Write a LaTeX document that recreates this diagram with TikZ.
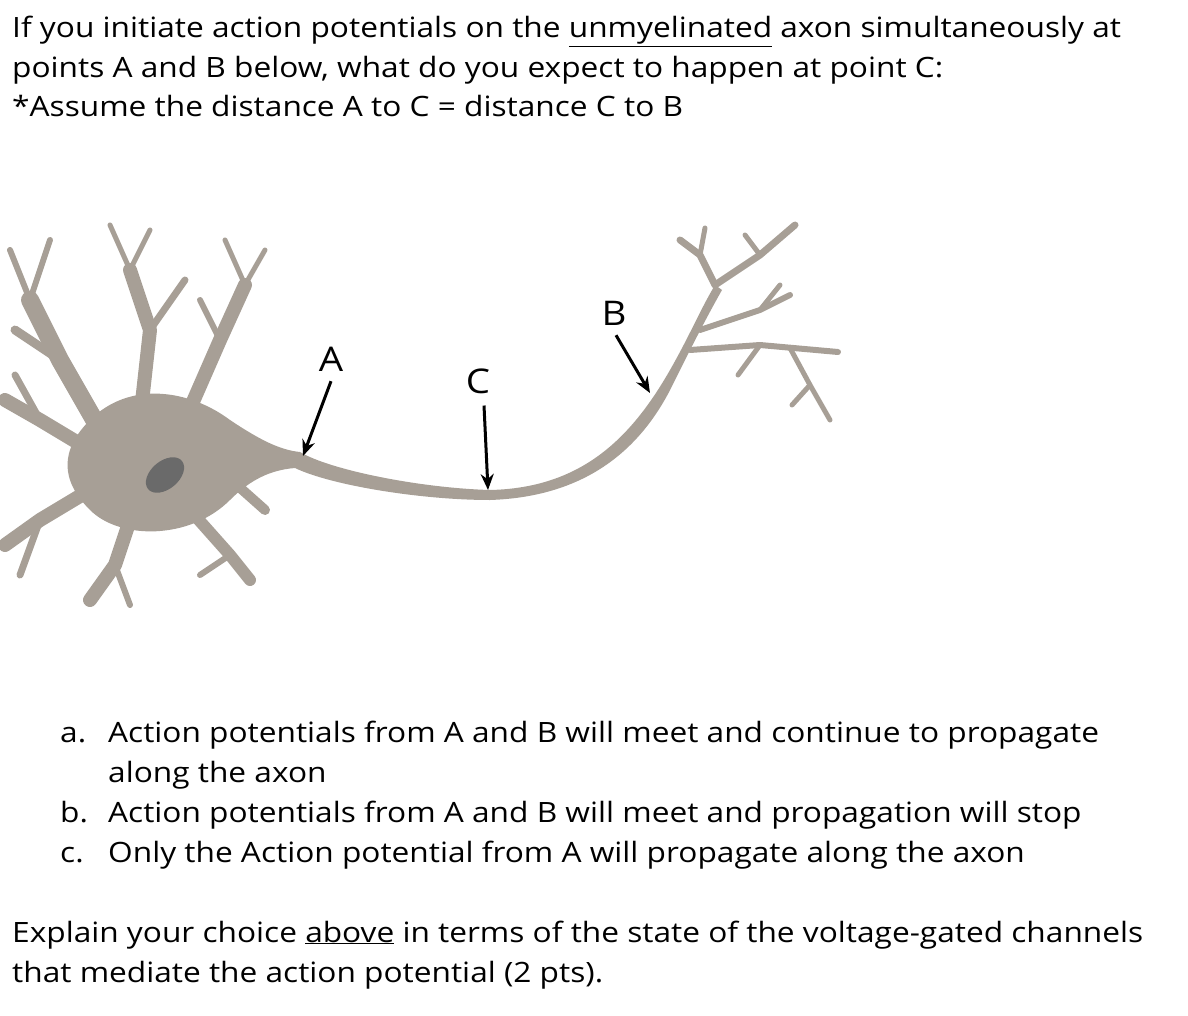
\documentclass[tikz,border=0pt]{standalone}
\usepackage{fontspec}
\setmainfont{Open Sans}[FakeStretch=1.13]
\usetikzlibrary{arrows.meta}
\definecolor{neu}{HTML}{A79F96}
\definecolor{nuc}{HTML}{6A6A6A}
\begin{document}
\begin{tikzpicture}[x=1pt,y=-1pt,
  txt/.style={anchor=base west,inner sep=0pt,font=\fontsize{28}{40}\selectfont},
  lab/.style={anchor=base,inner sep=0pt,font=\fontsize{34}{40}\selectfont},
  den/.style={draw=neu,line cap=round,line join=round},
  ptr/.style={-{Stealth[length=16pt,width=13pt]},line width=3pt}]
\useasboundingbox (0,0) rectangle (1188,1016);
\node[txt] (t1) at (12,38) {If you initiate action potentials on the \underline{unmyelinated} axon simultaneously at};
\node[txt] (t2) at (12,78) {points A and B below, what do you expect to happen at point C:};
\node[txt] (t3) at (12,117) {*Assume the distance A to C = distance C to B};
% neuron
\fill[neu] (90,420) .. controls (130,380) and (190,390) .. (230,420)
  .. controls (260,440) and (280,450) .. (300,452)
  .. controls (330,470) and (420,488) .. (490,490)
  .. controls (580,488) and (630,440) .. (670,370)
  .. controls (690,335) and (700,310) .. (715,285)
  -- (722,290) .. controls (705,320) and (690,350) .. (675,380)
  .. controls (640,455) and (580,497) .. (490,500)
  .. controls (420,500) and (330,485) .. (295,468)
  .. controls (270,470) and (250,480) .. (230,500)
  .. controls (190,540) and (120,540) .. (90,510)
  .. controls (60,480) and (60,450) .. (90,420) -- cycle;
\begin{scope}[den]
 \draw[line width=18pt] (100,430) -- (60,360) -- (30,300);
 \draw[line width=9pt] (60,360) -- (15,330);
 \draw[line width=6pt] (30,300) -- (10,250);
 \draw[line width=6pt] (30,300) -- (50,240);
 \draw[line width=14pt] (140,420) -- (150,330) -- (130,270);
 \draw[line width=7pt] (150,330) -- (185,280);
 \draw[line width=5pt] (130,270) -- (110,225);
 \draw[line width=5pt] (130,270) -- (150,230);
 \draw[line width=14pt] (185,420) -- (220,340) -- (245,285);
 \draw[line width=6pt] (220,340) -- (200,300);
 \draw[line width=5pt] (245,285) -- (225,240);
 \draw[line width=5pt] (245,285) -- (265,250);
 \draw[line width=14pt] (90,450) -- (40,420) -- (5,400);
 \draw[line width=7pt] (40,420) -- (15,375);
 \draw[line width=14pt] (90,490) -- (40,520) -- (5,545);
 \draw[line width=7pt] (40,520) -- (20,575);
 \draw[line width=14pt] (130,520) -- (115,565) -- (90,600);
 \draw[line width=6pt] (115,565) -- (130,605);
 \draw[line width=12pt] (190,510) -- (230,555) -- (250,580);
 \draw[line width=10pt] (220,470) -- (265,510);
 \draw[line width=6pt] (230,555) -- (200,575);
 % terminal branches
 \draw[line width=7pt] (715,285) -- (700,255) -- (680,240);
 \draw[line width=5pt] (700,255) -- (705,228);
 \draw[line width=7pt] (715,285) -- (760,255) -- (795,225);
 \draw[line width=5pt] (760,255) -- (745,235);
 \draw[line width=6pt] (700,330) -- (760,310) -- (790,295);
 \draw[line width=5pt] (760,310) -- (780,285);
 \draw[line width=6pt] (690,350) -- (760,345) -- (838,352);
 \draw[line width=5pt] (760,345) -- (738,375);
 \draw[line width=5pt] (790,348) -- (810,385) -- (792,405);
 \draw[line width=5pt] (810,385) -- (830,420);
\end{scope}
\fill[nuc,rotate around={40:(165,475)}] (165,475) ellipse (22pt and 14pt);
% labels and arrows
\node[lab] (A) at (331,371) {A};
\node[lab] (C) at (478,393) {C};
\node[lab] (B) at (614,325) {B};
\coordinate (pa) at (303,456);
\coordinate (pc) at (488,490);
\coordinate (pb) at (650,393);
\draw[ptr] ([yshift=-10pt]A.south) -- (pa);
\draw[ptr] ([xshift=6pt,yshift=-12pt]C.south) -- (pc);
\draw[ptr] ([xshift=2pt,yshift=-10pt]B.south) -- (pb);
% options
\node[txt] (oa) at (60,742) {a.};
\node[txt] (ta) at (108,742) {Action potentials from A and B will meet and continue to propagate};
\node[txt] (ta2) at (108,782) {along the axon};
\node[txt] (ob) at (60,822) {b.};
\node[txt] (tb) at (108,822) {Action potentials from A and B will meet and propagation will stop};
\node[txt] (oc) at (60,862) {c.};
\node[txt] (tc) at (108,862) {Only the Action potential from A will propagate along the axon};
\node[txt] (e1) at (12,942) {Explain your choice \underline{above} in terms of the state of the voltage-gated channels};
\node[txt] (e2) at (12,982) {that mediate the action potential (2 pts).};
\end{tikzpicture}
\end{document}
